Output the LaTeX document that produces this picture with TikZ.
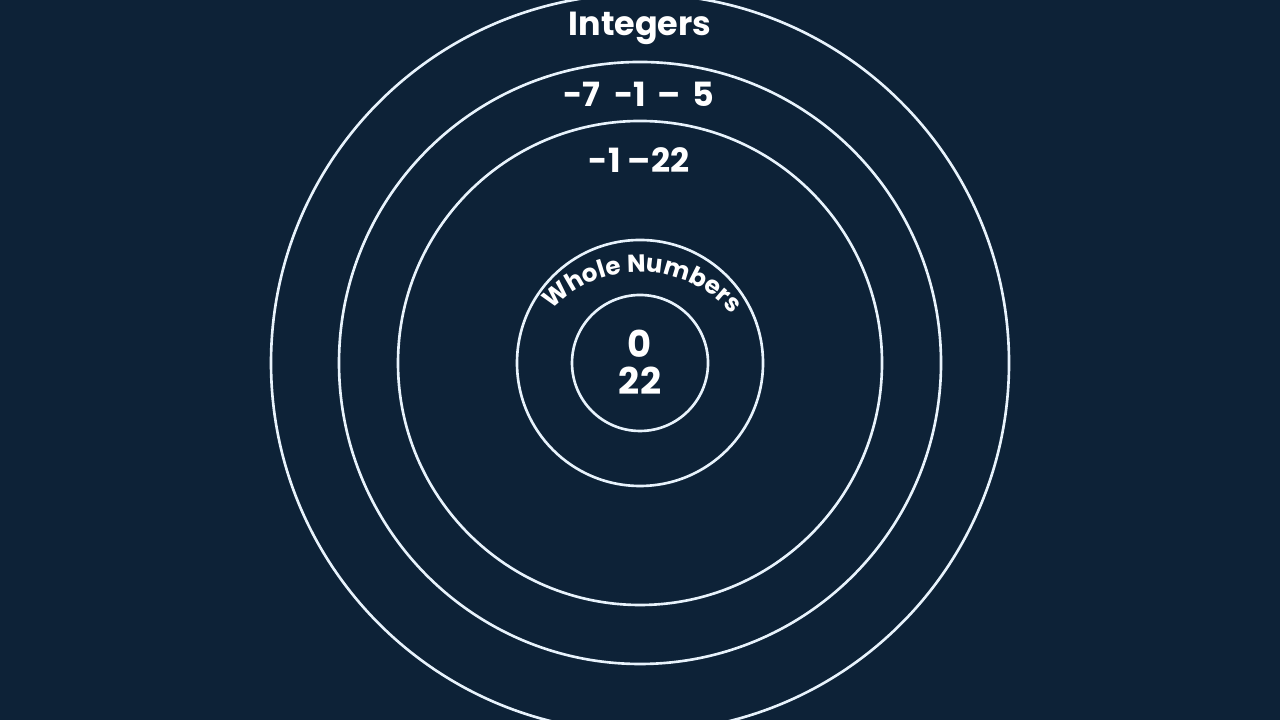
\documentclass[tikz,border=0pt]{standalone}
\usepackage{fontspec}
\setmainfont{Poppins}
\usepackage{tikz}
\usetikzlibrary{decorations.text}
\definecolor{nightnavy}{RGB}{13, 34, 55}
\definecolor{ringwhite}{RGB}{232, 243, 252}

\begin{document}
\begin{tikzpicture}[
    ring/.style={draw=ringwhite, line width=0.75pt},
    setlabel/.style={text=white, font=\bfseries\fontsize{9.5}{11}\selectfont, anchor=base, inner sep=0pt},
    corelabel/.style={text=white, font=\bfseries\fontsize{10.5}{12}\selectfont, anchor=base, inner sep=0pt}
]
    \fill[nightnavy] (0,0) rectangle (12.8,7.2);
    \clip (0,0) rectangle (12.8,7.2);
    \coordinate (c) at (6.4,3.57);
    \coordinate (wc) at (6.4,3.27);

    % rings, outside in
    \draw[ring] (c) circle[radius=3.69];
    \draw[ring] (c) circle[radius=3.01];
    \draw[ring] (c) circle[radius=2.42];
    \draw[ring] (c) circle[radius=1.23];
    \draw[ring] (c) circle[radius=0.68];

    \node[setlabel] (integers) at (6.4,6.84) {Integers};
    \node[setlabel] (negA) at (6.39,6.13) {-7\hspace{0.4em}-1\hspace{0.35em}–\hspace{0.35em}5};
    \node[setlabel] (negB) at (6.39,5.47) {-1 –22};

    \path[decorate, decoration={text along path, text align=center,
        text={|\color{white}\bfseries\fontsize{7}{8}\selectfont|Whole Numbers}}]
        (wc) ++(139:1.21) arc[start angle=139, end angle=38, radius=1.21];

    \node[corelabel] (zero) at (6.4,3.62) {0};
    \node[corelabel] (twotwo) at (6.4,3.25) {22};
\end{tikzpicture}
\end{document}
